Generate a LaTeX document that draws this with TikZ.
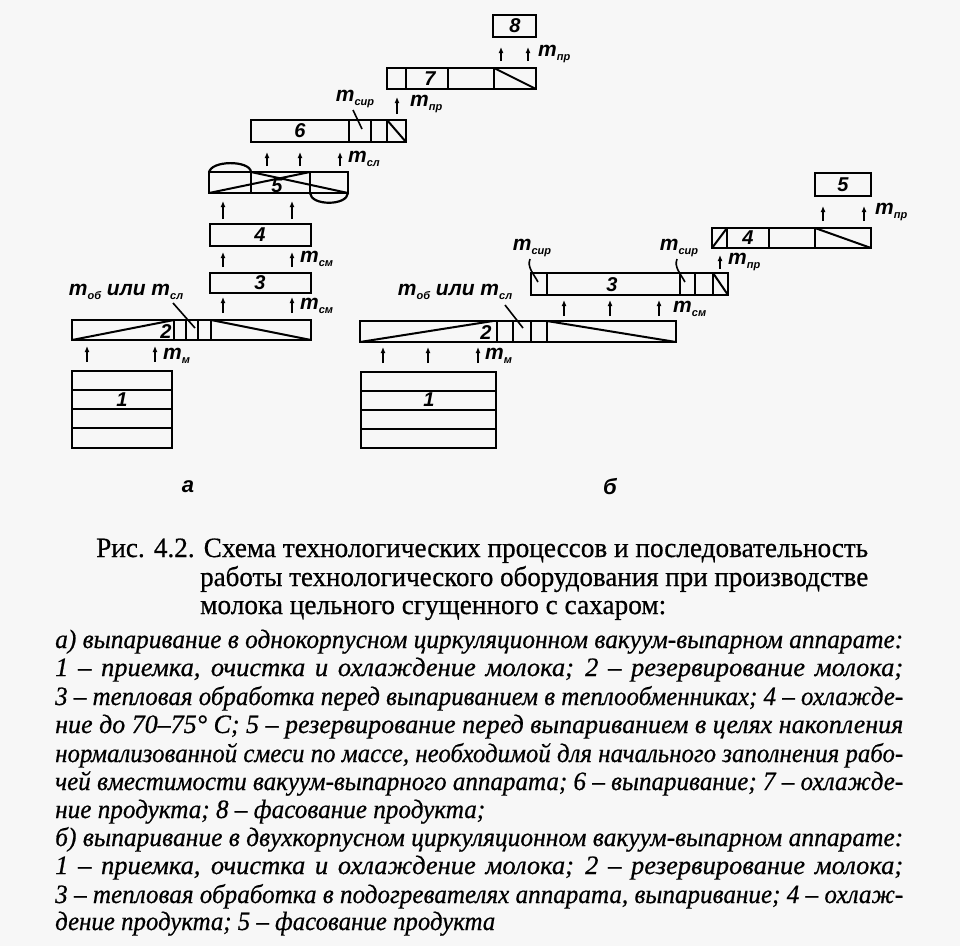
\documentclass[tikz,border=0pt]{standalone}
\usepackage{fontspec}
\usepackage{graphicx}
\setmainfont{Liberation Serif}
\newfontfamily\capf{Liberation Serif}[FakeBold=0.6]
\newfontfamily\labf{Liberation Sans}
\usetikzlibrary{arrows.meta,calc}
\newlength\natw
\newcommand\jline[2]{\settowidth\natw{#2}\ifdim\natw>#1pt\resizebox{#1pt}{\height}{#2}\else\makebox[#1pt][s]{#2}\fi}
\newcommand\msb[1]{m\raisebox{-4pt}{\fontsize{11}{11}\selectfont #1}}
\newcommand\bxx[5]{\node[bx, minimum width={(#4-#2)*1pt}, minimum height={(#5-#3)*1pt}] (#1) at (#2,#3) {};}
\tikzset{
  bx/.style={draw, line width=2.4pt, inner sep=0pt, outer sep=0pt, anchor=north west},
  inl/.style={line width=2.2pt},
  diag/.style={line width=2pt},
  uarr/.style={line width=2.2pt, -{Latex[length=6pt,width=5pt]}},
  lead/.style={line width=1.6pt},
  lbl/.style={font=\labf\bfseries\itshape\fontsize{21}{21}\selectfont, inner sep=0pt},
  num/.style={font=\labf\bfseries\itshape\fontsize{20}{20}\selectfont, inner sep=0pt},
  captxt/.style={font=\capf\fontsize{28}{28}\selectfont, inner sep=0pt, anchor=base west},
  itl/.style={font=\capf\itshape\fontsize{26.5}{26.5}\selectfont, inner sep=0pt, anchor=base west},
}
\begin{document}
\begin{tikzpicture}[x=1pt,y=-1pt]
\useasboundingbox[fill=white!97!black] (0,0) rectangle (960,946);
% ================= (a) =================
\bxx{a1}{72}{371}{172}{448}
\draw[inl] (72,390) -- (172,390) (72,409) -- (172,409) (72,428) -- (172,428);
\node[num] (a1n) at (122,400) {1};
\draw[uarr] (87,362) -- (87,346);
\draw[uarr] (155,362) -- (155,346);
\node[lbl, anchor=west] (a1m) at (163,356) {\msb{м}};
% box 2
\bxx{a2}{72}{320}{311}{340}
\draw[inl] (174,320) -- (174,340) (186,320) -- (186,340) (198,320) -- (198,340) (211,320) -- (211,340);
\draw[diag] (72,340) -- (174,320) (211,320) -- (311,340);
\node[num] (a2n) at (166,332) {2};
\node[lbl] (a2m) at (126,292) {\msb{об} или \msb{сл}};
\draw[lead] (173,303) -- (195,328);
\draw[uarr] (223,313) -- (223,297);
\draw[uarr] (292,313) -- (292,297);
\node[lbl, anchor=west] (a23m) at (300,306) {\msb{см}};
% box 3
\bxx{a3}{210}{273}{311}{293}
\node[num] (a3n) at (260,283) {3};
\draw[uarr] (223,267) -- (223,252);
\draw[uarr] (292,267) -- (292,252);
\node[lbl, anchor=west] (a34m) at (300,259) {\msb{см}};
% box 4
\bxx{a4}{210}{224}{311}{246}
\node[num] (a4n) at (260,235) {4};
\draw[uarr] (223,219) -- (223,201);
\draw[uarr] (292,219) -- (292,201);
% box 5
\bxx{a5}{209}{172}{348}{193}
\draw[inl] (251,172) -- (251,193) (310,172) -- (310,193);
\draw[inl] (209,173) .. controls (210,160) and (250,160) .. (251,172);
\draw[inl] (310,193) .. controls (311,206) and (347,206) .. (348,193);
\draw[diag] (209,193) -- (310,172) (251,172) -- (348,193);
\node[num] (a5n) at (277,186) {5};
\draw[uarr] (267,166) -- (267,152);
\draw[uarr] (300,166) -- (300,152);
\draw[uarr] (340,166) -- (340,152);
\node[lbl, anchor=west] (a56m) at (348,159) {\msb{сл}};
% box 6
\bxx{a6}{251}{120}{406}{142}
\draw[inl] (349,120) -- (349,142) (371,120) -- (371,142) (387,120) -- (387,142);
\draw[diag] (387,120) -- (406,142);
\node[num] (a6n) at (300,131) {6};
\node[lbl] (a6m) at (355,99) {\msb{сир}};
\draw[lead] (353,110) -- (362,129);
\draw[uarr] (397,114) -- (397,97);
\node[lbl, anchor=west] (a67m) at (410,104) {\msb{пр}};
% box 7
\bxx{a7}{387}{68}{536}{89}
\draw[inl] (406,68) -- (406,89) (448,68) -- (448,89) (494,68) -- (494,89);
\draw[diag] (494,68) -- (536,89);
\node[num] (a7n) at (430,79) {7};
\draw[uarr] (501,61) -- (501,47);
\draw[uarr] (528,61) -- (528,47);
\node[lbl, anchor=west] (a78m) at (538,54) {\msb{пр}};
% box 8
\bxx{a8}{493}{15}{536}{37}
\node[num] (a8n) at (515,26) {8};
\node[num, font=\labf\bfseries\itshape\fontsize{22}{22}\selectfont] (alab) at (188,487) {а};
% ================= (б) =================
\bxx{b1}{361}{372}{496}{448}
\draw[inl] (361,391) -- (496,391) (361,410) -- (496,410) (361,429) -- (496,429);
\node[num] (b1n) at (429,400) {1};
\draw[uarr] (383,363) -- (383,347);
\draw[uarr] (428,363) -- (428,347);
\draw[uarr] (478,363) -- (478,347);
\node[lbl, anchor=west] (b1m) at (485,356) {\msb{м}};
% box 2
\bxx{b2}{360}{321}{676}{342}
\draw[inl] (497,321) -- (497,342) (513,321) -- (513,342) (531,321) -- (531,342) (547,321) -- (547,342);
\draw[diag] (360,342) -- (493,321) (547,321) -- (676,342);
\node[num] (b2n) at (486,333) {2};
\node[lbl] (b2m) at (455,292) {\msb{об} или \msb{сл}};
\draw[lead] (505,305) -- (523,328);
\draw[uarr] (564,316) -- (564,300);
\draw[uarr] (610,316) -- (610,300);
\draw[uarr] (659,316) -- (659,300);
\node[lbl, anchor=west] (b23m) at (673,309) {\msb{см}};
% box 3
\bxx{b3}{531}{273}{728}{295}
\draw[inl] (547,273) -- (547,295) (680,273) -- (680,295) (695,273) -- (695,295) (713,273) -- (713,295);
\draw[diag] (713,273) -- (728,295);
\node[num] (b3n) at (612,285) {3};
\node[lbl] (b3m1) at (532,248) {\msb{сир}};
\draw[lead] (530,259) .. controls (527,267) and (533,273) .. (538,282);
\node[lbl] (b3m2) at (679,248) {\msb{сир}};
\draw[lead] (677,259) .. controls (674,267) and (680,273) .. (685,282);
\draw[uarr] (720,269) -- (720,255);
\node[lbl, anchor=west] (b34m) at (728,262) {\msb{пр}};
% box 4
\bxx{b4}{712}{228}{871}{248}
\draw[inl] (727,228) -- (727,248) (769,228) -- (769,248) (815,228) -- (815,248);
\draw[diag] (712,248) -- (727,228) (815,228) -- (871,248);
\node[num] (b4n) at (748,238) {4};
\draw[uarr] (823,221) -- (823,206);
\draw[uarr] (864,221) -- (864,206);
\node[lbl, anchor=west] (b45m) at (875,212) {\msb{пр}};
% box 5
\bxx{b5}{815}{173}{871}{196}
\node[num] (b5n) at (843,185) {5};
\node[num, font=\labf\bfseries\itshape\fontsize{22}{22}\selectfont] (blab) at (610,487) {б};
% ================= caption =================
\node[captxt] (c1) at (96,557) {\jline{772}{Рис. 4.2. Схема технологических процессов и последовательность}};
\node[captxt] (c2) at (200,586) {\jline{668}{работы технологического оборудования при производстве}};
\node[captxt] (c3) at (200,614) {\jline{466}{молока цельного сгущенного с сахаром:}};
\node[itl] (t1) at (55,648) {\jline{848}{а) выпаривание в однокорпусном циркуляционном вакуум-выпарном аппарате:}};
\node[itl] (t2) at (55,676) {\jline{848}{1 – приемка, очистка и охлаждение молока; 2 – резервирование молока;}};
\node[itl] (t3) at (55,705) {\jline{848}{3 – тепловая обработка перед выпариванием в теплообменниках; 4 – охлажде-}};
\node[itl] (t4) at (55,733) {\jline{848}{ние до 70–75° С; 5 – резервирование перед выпариванием в целях накопления}};
\node[itl] (t5) at (55,762) {\jline{848}{нормализованной смеси по массе, необходимой для начального заполнения рабо-}};
\node[itl] (t6) at (55,790) {\jline{848}{чей вместимости вакуум-выпарного аппарата; 6 – выпаривание; 7 – охлажде-}};
\node[itl] (t7) at (55,818) {\jline{430}{ние продукта; 8 – фасование продукта;}};
\node[itl] (t8) at (55,846) {\jline{848}{б) выпаривание в двухкорпусном циркуляционном вакуум-выпарном аппарате:}};
\node[itl] (t9) at (55,874) {\jline{848}{1 – приемка, очистка и охлаждение молока; 2 – резервирование молока;}};
\node[itl] (t10) at (55,903) {\jline{848}{3 – тепловая обработка в подогревателях аппарата, выпаривание; 4 – охлаж-}};
\node[itl] (t11) at (55,930) {\jline{440}{дение продукта; 5 – фасование продукта}};
\end{tikzpicture}
\end{document}
